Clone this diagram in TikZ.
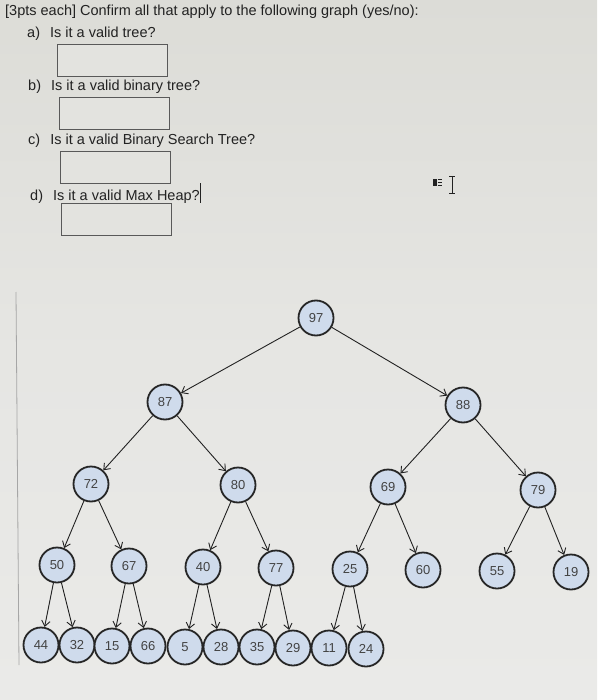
\documentclass[tikz,border=0pt]{standalone}
\usepackage{fontspec}
\setmainfont{Liberation Sans}
\usetikzlibrary{arrows.meta}
\definecolor{cBg}{HTML}{DCDCD7}
\definecolor{cPanel}{HTML}{EAEAE8}
\definecolor{cInk}{HTML}{222222}
\definecolor{cKey}{HTML}{CFDBEC}
\tikzset{
  every node/.style={text=cInk},
  qtext/.style={font=\fontsize{14.5}{17}\selectfont, anchor=west, inner sep=0pt},
  ansbox/.style={draw=cInk!75, line width=1pt, fill=cPanel!50!cBg, minimum width=110pt, minimum height=32pt, inner sep=0pt},
  key/.style={circle, draw=black!85, line width=1.8pt, fill=cKey, minimum size=35pt, inner sep=0pt, font=\fontsize{13}{15}\selectfont, text=cInk!85},
  arr/.style={-{Straight Barb[length=5.5pt,width=8.5pt]}, line width=0.9pt, draw=cInk},
}
\newcommand{\qgap}{\hspace{10pt}}

\begin{document}
\begin{tikzpicture}[x=1pt,y=-1pt]
\shade[top color=cBg, bottom color=cPanel, middle color=cPanel!70!cBg] (0,0) rectangle (597,700);
\useasboundingbox (0,0) rectangle (597,700);
% ---------------- questions
\node[qtext] (title) at (5,12) {[3pts each] Confirm all that apply to the following graph (yes/no):};
\node[qtext] (qa) at (27,34) {a)\qgap Is it a valid tree?};
\node[ansbox] (ba) at (112.5,60.5) {};
\node[qtext] (qb) at (28,87) {b)\qgap Is it a valid binary tree?};
\node[ansbox] (bb) at (114,114) {};
\node[qtext] (qc) at (28,141) {c)\qgap Is it a valid Binary Search Tree?};
\node[ansbox] (bc) at (115,167.5) {};
\node[qtext] (qd) at (30,193) {d)\qgap Is it a valid Max Heap?\rule[-0.3ex]{0.7pt}{2.6ex}};
\node[ansbox] (bd) at (116,220) {};

% cursor icons
\fill[cInk] (433,179) rectangle (436.5,186);
\foreach \yy in {179.5,182.5,185.5}{\draw[cInk, line width=0.7pt] (437.5,\yy) -- (442,\yy);}
\draw[cInk, line width=0.7pt] (452,176) -- (452,193) (449,176) -- (455,176) (449,193) -- (455,193);

% ---------------- graph panel edge
\draw[black!35, line width=0.8pt] (16,292) -- (19,665);

% ---------------- tree
\node[key] (n97) at (316,318) {97};
\node[key] (n87) at (165,402) {87};
\node[key] (n88) at (463,405) {88};
\node[key] (n72) at (91,484) {72};
\node[key] (n80) at (238,485) {80};
\node[key] (n69) at (388,487) {69};
\node[key] (n79) at (538,490) {79};
\node[key] (n50) at (57,565) {50};
\node[key] (n67) at (129,566) {67};
\node[key] (n40) at (203,567) {40};
\node[key] (n77) at (276,568) {77};
\node[key] (n25) at (350,569) {25};
\node[key] (n60) at (423,570) {60};
\node[key] (n55) at (497,571) {55};
\node[key] (n19) at (571,572) {19};
\node[key] (n44) at (41,645) {44};
\node[key] (n32) at (77,645) {32};
\node[key] (n15) at (112,646) {15};
\node[key] (n66) at (148,646) {66};
\node[key] (n5) at (185,647) {5};
\node[key] (n28) at (221,647) {28};
\node[key] (n35) at (257,647) {35};
\node[key] (n29) at (293,648) {29};
\node[key] (n11) at (329,648) {11};
\node[key] (n24) at (366,649) {24};

\foreach \p/\c in {n97/n87,n97/n88,n87/n72,n87/n80,n88/n69,n88/n79,
  n72/n50,n72/n67,n80/n40,n80/n77,n69/n25,n69/n60,n79/n55,n79/n19,
  n50/n44,n50/n32,n67/n15,n67/n66,n40/n5,n40/n28,n77/n35,n77/n29,n25/n11,n25/n24}
  {\draw[arr] (\p) -- (\c);}
\end{tikzpicture}
\end{document}
